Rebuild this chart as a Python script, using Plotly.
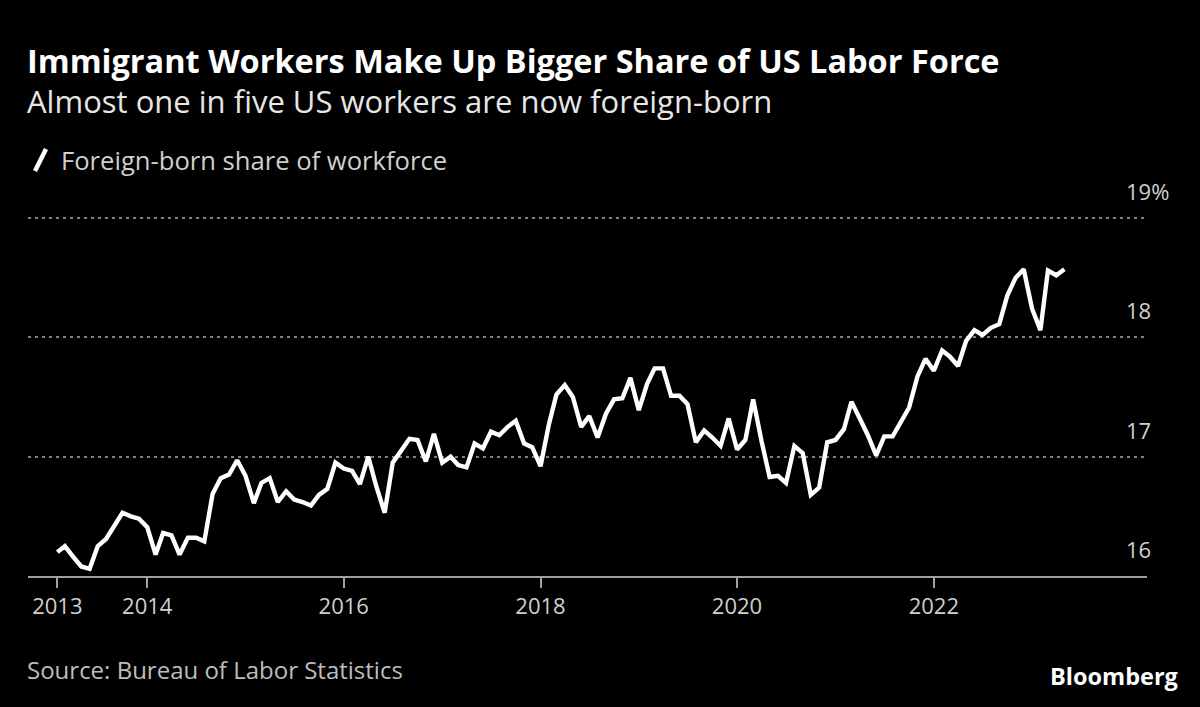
import pandas as pd
import plotly.graph_objects as go

# ---- data ----
start_month = "2013-02-01"
share_values = [
    16.20, 16.25, 16.16, 16.08, 16.06, 16.25, 16.31, 16.42, 16.53, 16.50, 16.48, 16.41,
    16.18, 16.36, 16.34, 16.18, 16.32, 16.32, 16.29, 16.69, 16.82,
    16.85, 16.97, 16.84, 16.61, 16.78, 16.82, 16.62, 16.71, 16.64, 16.62, 16.59, 16.68,
    16.73, 16.95, 16.90, 16.88, 16.77, 17.00, 16.75, 16.53,
    16.95, 17.05, 17.15, 17.14, 16.96, 17.19, 16.95, 17.00, 16.93, 16.91, 17.11, 17.07,
    17.21, 17.18, 17.25, 17.30, 17.11, 17.08, 16.92, 17.27, 17.52,
    17.60, 17.50, 17.25, 17.34, 17.16, 17.36, 17.48, 17.49, 17.66, 17.39, 17.61, 17.74,
    17.74, 17.51, 17.51, 17.44, 17.12, 17.22, 17.16, 17.09, 17.32, 17.06,
    17.14, 17.48, 17.13, 16.83, 16.84, 16.78, 17.09, 17.03, 16.68, 16.74, 17.12, 17.14,
    17.23, 17.46, 17.32, 17.18, 17.01, 17.17, 17.17, 17.29, 17.41,
    17.67, 17.82, 17.72, 17.89, 17.84, 17.76, 17.97, 18.06, 18.02, 18.08, 18.11, 18.35,
    18.50, 18.57, 18.24, 18.06, 18.56, 18.52, 18.57,
]
dates = pd.date_range(start_month, periods=len(share_values), freq="MS")

x_tick_vals = ["2013-02-01", "2014-01-01", "2016-01-01", "2018-01-01", "2020-01-01", "2022-01-01"]
x_tick_text = ["2013", "2014", "2016", "2018", "2020", "2022"]
y_tick_vals = [16, 17, 18, 19]
y_tick_text = ["16", "17", "18", "19%"]

series_name = "Foreign-born share of workforce"
title = "Immigrant Workers Make Up Bigger Share of US Labor Force"
subtitle = "Almost one in five US workers are now foreign-born"
source = "Source: Bureau of Labor Statistics"

# ---- layout geometry (pixels) ----
W, H = 1200, 707
L, R, T, B = 28, 1147, 214, 576
Y_MIN, Y_MAX = 16, 19 + 4 / 119.33
pw, ph = R - L, B - T


def px(x):
    return (x - L) / pw


def py(y):
    return (B - y) / ph


FONT = "Open Sans"

fig = go.Figure()
fig.add_trace(go.Scatter(
    x=dates, y=share_values, mode="lines", name=series_name,
    line=dict(color="#ffffff", width=4.4, shape="linear"),
    showlegend=False, hoverinfo="skip",
))

annotations = []
# y-axis labels sitting above gridlines
for v, t in zip(y_tick_vals, y_tick_text):
    annotations.append(dict(
        xref="paper", yref="y", x=px(1124), y=v, text=t, showarrow=False,
        xanchor="left", yanchor="bottom", yshift=10,
        font=dict(family=FONT, size=22, color="#d0d0d0"),
    ))

annotations += [
    dict(xref="paper", yref="paper", x=px(25), y=py(60), text=f"<b>{title}</b>",
         showarrow=False, xanchor="left", yanchor="middle",
         font=dict(family=FONT, size=32.5, color="#ffffff")),
    dict(xref="paper", yref="paper", x=px(25), y=py(101), text=subtitle,
         showarrow=False, xanchor="left", yanchor="middle",
         font=dict(family=FONT, size=31, color="#e6e6e6")),
    dict(xref="paper", yref="paper", x=px(59), y=py(160), text=series_name,
         showarrow=False, xanchor="left", yanchor="middle",
         font=dict(family=FONT, size=25.6, color="#cfcfcf")),
    dict(xref="paper", yref="paper", x=px(25), y=py(669), text=source,
         showarrow=False, xanchor="left", yanchor="middle",
         font=dict(family=FONT, size=24, color="#bdbdbd")),
    dict(xref="paper", yref="paper", x=px(1180), y=py(676), text="<b>Bloomberg</b>",
         showarrow=False, xanchor="right", yanchor="middle",
         font=dict(family=FONT, size=23.5, color="#ffffff")),
]

shapes = [
    dict(type="line", xref="paper", yref="paper",
         x0=px(35), y0=py(171), x1=px(46), y1=py(149),
         line=dict(color="#ffffff", width=4.5)),
]

fig.update_layout(
    width=W, height=H,
    margin=dict(l=L, r=W - R, t=T, b=H - B, pad=0),
    paper_bgcolor="#000000", plot_bgcolor="#000000",
    showlegend=False,
    annotations=annotations, shapes=shapes,
    xaxis=dict(
        type="date", range=["2012-10-15", "2024-03-03"],
        tickvals=x_tick_vals, ticktext=x_tick_text,
        showgrid=False, zeroline=False,
        showline=True, linecolor="#a0a0a0", linewidth=1.5,
        ticks="outside", ticklen=10, tickwidth=1.5, tickcolor="#a0a0a0",
        tickfont=dict(family=FONT, size=22, color="#cfcfcf"),
    ),
    yaxis=dict(
        range=[Y_MIN, Y_MAX], tickvals=y_tick_vals,
        showticklabels=False, ticks="",
        showgrid=True, gridcolor="#808080", gridwidth=1.5, griddash="3px,4px",
        zeroline=False, showline=False,
    ),
)

fig.write_html("out.html")
